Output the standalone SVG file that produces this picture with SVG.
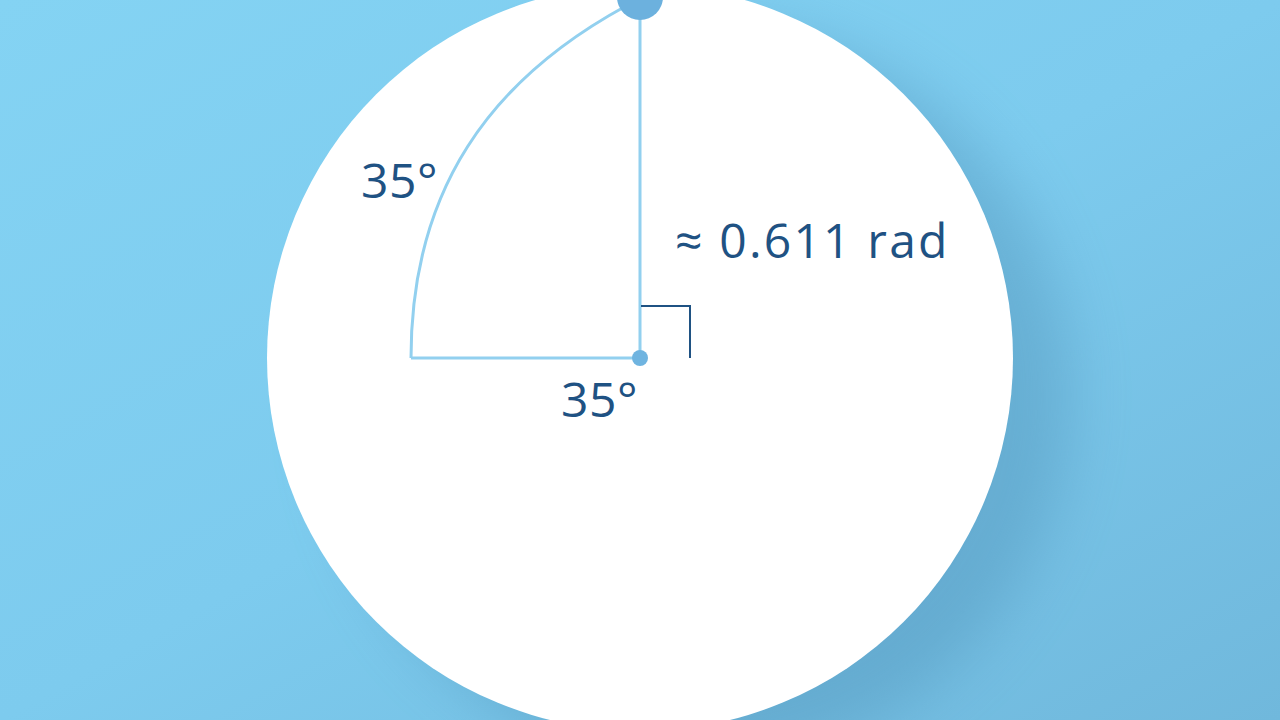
<svg xmlns="http://www.w3.org/2000/svg" width="1280" height="720" viewBox="0 0 1280 720">
<defs>
<linearGradient id="bg" x1="0" y1="0" x2="1" y2="1">
<stop offset="0" stop-color="#84d3f3"/>
<stop offset="0.5" stop-color="#7dcbee"/>
<stop offset="1" stop-color="#70b8dc"/>
</linearGradient>
<filter id="sh" x="-30%" y="-30%" width="160%" height="160%">
<feGaussianBlur stdDeviation="30"/>
</filter>
<style>
.lbl{font-family:"Open Sans","Noto Sans",sans-serif;font-size:48px;fill:#1f5283}
.ln{fill:none;stroke:#92d0ef;stroke-width:3}
</style>
</defs>
<rect width="1280" height="720" fill="url(#bg)"/>
<circle cx="700" cy="395" r="370" fill="#4e8fb5" opacity="0.4" filter="url(#sh)"/>
<g id="disc">
<circle cx="640" cy="358" r="373" fill="#ffffff"/>
</g>
<g id="connectors">
<path class="ln" d="M411,358 C411,190 490,80 626,6"/>
<line class="ln" x1="640" y1="0" x2="640" y2="358"/>
<line class="ln" x1="411" y1="358" x2="640" y2="358"/>
<path d="M641,306 H690 V358" fill="none" stroke="#1f5283" stroke-width="2"/>
</g>
<g id="center-dot"><circle cx="640" cy="358" r="8" fill="#6fb4e0"/></g>
<g id="top-dot"><circle cx="640" cy="-3" r="23" fill="#6cb1de"/></g>
<g id="labels">
<text class="lbl" x="361" y="198" letter-spacing="0.5">35°</text>
<text class="lbl" x="561" y="417" letter-spacing="0.5">35°</text>
<text class="lbl" x="675" y="258" letter-spacing="2.2">≈ 0.611 rad</text>
</g>
</svg>
